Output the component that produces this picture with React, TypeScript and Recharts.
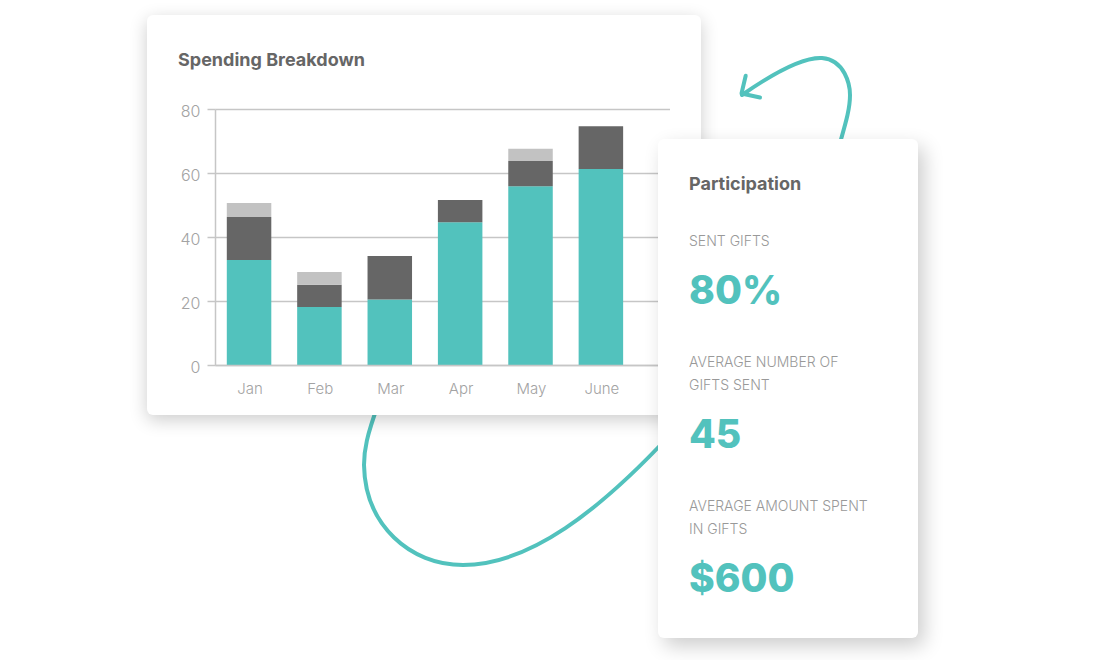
/**
 * App.tsx
 * Spending Breakdown stacked bars plus the Participation stat card.
 */

import type { CSSProperties } from "react";
import { BarChart, Bar, XAxis, YAxis, CartesianGrid } from "recharts";

const months = ["Jan", "Feb", "Mar", "Apr", "May", "June"];
const tealValues = [33, 18.3, 20.6, 44.8, 56, 61.4];
const darkValues = [13.4, 6.9, 13.6, 6.9, 7.9, 13.4];
const lightValues = [4.4, 4, 0, 0, 3.8, 0];
const yTicks = [0, 20, 40, 60, 80];

const tableData = months.map((month, i) => ({
  month,
  teal: tealValues[i],
  dark: darkValues[i],
  light: lightValues[i],
}));

const TEAL = "#52c2bd";
const DARK = "#666666";
const LIGHT = "#c2c2c2";
const RULE = "#c6c6c6";
const LABEL = "#a3a3a3";
const FONT = "Inter, 'Noto Sans', sans-serif";

const heading: CSSProperties = {
  position: "absolute",
  fontFamily: FONT,
  fontWeight: 700,
  fontSize: 18,
  lineHeight: "24px",
  color: DARK,
  whiteSpace: "nowrap",
};

const caption: CSSProperties = {
  position: "absolute",
  left: 31,
  fontFamily: FONT,
  fontWeight: 300,
  fontSize: 14,
  lineHeight: "23px",
  color: "#999999",
  whiteSpace: "nowrap",
};

const stat: CSSProperties = {
  position: "absolute",
  left: 31,
  fontFamily: FONT,
  fontWeight: 800,
  fontSize: 39,
  lineHeight: "48px",
  color: TEAL,
  whiteSpace: "nowrap",
};

export default function App() {
  return (
    <div style={{ position: "fixed", left: 0, top: 0, width: 1100, height: 660, background: "#fff", overflow: "hidden" }}>
      {/* decorative arrow, sits behind both cards */}
      <svg width={1100} height={660} style={{ position: "absolute", left: 0, top: 0 }}>
        <g fill="none" stroke={TEAL} strokeWidth={4} strokeLinecap="round" strokeLinejoin="round">
          <path d="M742 95 C775 72 805 57 822 58 C845 60 850 85 850 95 C850 110 845 125 838 150" />
          <path d="M745.7 75.7 L741.5 93.5 L760 97.5" />
          <path d="M378 405 C367 435 364 450 364 465 C365 525 410 565 463 565 C530 565 600 510 670 435" />
        </g>
      </svg>

      <div style={{ position: "absolute", left: 147, top: 15, width: 554, height: 400, background: "#fff", borderRadius: 6, boxShadow: "0 5px 18px rgba(0,0,0,0.2)" }} />
      <div style={{ ...heading, left: 178, top: 48 }}>Spending Breakdown</div>

      <div style={{ position: "absolute", left: 0, top: 0 }}>
        <BarChart
          width={701}
          height={415}
          data={tableData}
          margin={{ top: 109.5, right: 31, bottom: 19.5, left: 155.5 }}
        >
          <CartesianGrid horizontal vertical={false} stroke={RULE} strokeWidth={1.5} />
          <XAxis
            dataKey="month"
            height={30}
            padding={{ left: -1.7, right: 34 }}
            tickLine={false}
            axisLine={{ stroke: RULE, strokeWidth: 1.5 }}
            tick={{ fill: LABEL, fontSize: 15, fontWeight: 300, fontFamily: FONT, dx: 1 }}
            tickMargin={12}
          />
          <YAxis
            width={60}
            domain={[0, 80]}
            ticks={yTicks}
            tickSize={8}
            tickMargin={7}
            tickLine={{ stroke: RULE, strokeWidth: 1.5 }}
            axisLine={{ stroke: RULE, strokeWidth: 1.5 }}
            tick={{ fill: LABEL, fontSize: 16, fontWeight: 300, fontFamily: FONT, dy: 2 }}
          />
          <Bar dataKey="teal" stackId="a" fill={TEAL} barSize={44.5} isAnimationActive={false} />
          <Bar dataKey="dark" stackId="a" fill={DARK} barSize={44.5} isAnimationActive={false} />
          <Bar dataKey="light" stackId="a" fill={LIGHT} barSize={44.5} isAnimationActive={false} />
        </BarChart>
      </div>

      <div style={{ position: "absolute", left: 658, top: 139, width: 260, height: 499, background: "#fff", borderRadius: 6, boxShadow: "6px 8px 20px rgba(0,0,0,0.2)" }}>
        <div style={{ ...heading, left: 31, top: 33 }}>Participation</div>
        <div style={{ ...caption, top: 90 }}>SENT GIFTS</div>
        <div style={{ ...stat, top: 127 }}>80%</div>
        <div style={{ ...caption, top: 211 }}>AVERAGE NUMBER OF<br />GIFTS SENT</div>
        <div style={{ ...stat, top: 271 }}>45</div>
        <div style={{ ...caption, top: 355 }}>AVERAGE AMOUNT SPENT<br />IN GIFTS</div>
        <div style={{ ...stat, top: 415 }}>$600</div>
      </div>
    </div>
  );
}
